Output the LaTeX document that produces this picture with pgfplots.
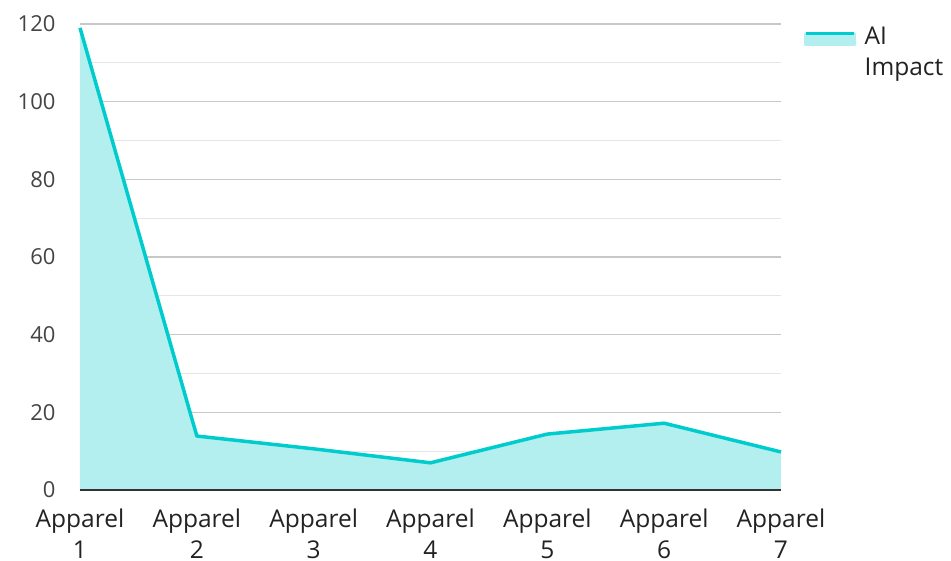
\documentclass[border=0pt]{standalone}
\usepackage{fontspec}
\setmainfont{Open Sans}
\usepackage{pgfplots}
\pgfplotsset{compat=1.18}
\definecolor{lineC}{RGB}{0,204,206}
\definecolor{fillC}{RGB}{178,239,238}
\definecolor{majC}{RGB}{200,200,200}
\definecolor{minC}{RGB}{230,230,230}
\definecolor{tickC}{RGB}{68,68,68}
\definecolor{xlabC}{RGB}{34,34,34}
\begin{document}
\begin{tikzpicture}[x=1pt,y=1pt]
\useasboundingbox (0,0) rectangle (951,560);
\begin{axis}[
  at={(80pt,70pt)}, anchor=south west,
  scale only axis, width=701pt, height=466pt,
  xmin=1, xmax=7, ymin=0, ymax=120,
  xtick={1,...,7},
  xticklabels={{Apparel\\1},{Apparel\\2},{Apparel\\3},{Apparel\\4},{Apparel\\5},{Apparel\\6},{Apparel\\7}},
  xticklabel style={align=center, font=\fontsize{24.5}{31}\selectfont, text=xlabC, yshift=-15pt},
  ytick={0,20,...,120},
  minor ytick={10,30,...,110},
  yticklabel style={font=\fontsize{22}{26}\selectfont, text=tickC, xshift=-21pt},
  /pgf/number format/assume math mode=true,
  major tick length=0pt, minor tick length=0pt,
  ymajorgrids, yminorgrids,
  major grid style={majC, line width=1.2pt},
  minor grid style={minC, line width=1.2pt},
  axis line style={draw=none},
  axis x line*=bottom, axis y line*=left,
  clip=false,
  legend style={at={(1,1)}, anchor=north west, xshift=20pt, yshift=1pt, draw=none, fill=none,
    font=\fontsize{24.5}{31}\selectfont, text=xlabC, cells={align=left, text width=90pt}},
  legend cell align=left,
  legend image code/.code={
    \fill[fillC] (0pt,-8pt) rectangle (48pt,3pt);
    \draw[lineC, line width=3.5pt] (0pt,3pt) -- (48pt,3pt);
  },
]
\addplot[draw=none, fill=fillC, forget plot] coordinates {
  (1,119) (2,13.9) (3,10.6) (4,7) (5,14.4) (6,17.2) (7,9.8)
} \closedcycle;
\addplot[lineC, line width=3.5pt, line join=round] coordinates {
  (1,119) (2,13.9) (3,10.6) (4,7) (5,14.4) (6,17.2) (7,9.8)
};
\addlegendentry{\hspace*{7pt}AI\\\hspace*{7pt}Impact}
\draw[color={rgb,255:red,51;green,51;blue,51}, line width=2.2pt] (axis cs:1,0) -- (axis cs:7,0);
\end{axis}
\end{tikzpicture}
\end{document}
